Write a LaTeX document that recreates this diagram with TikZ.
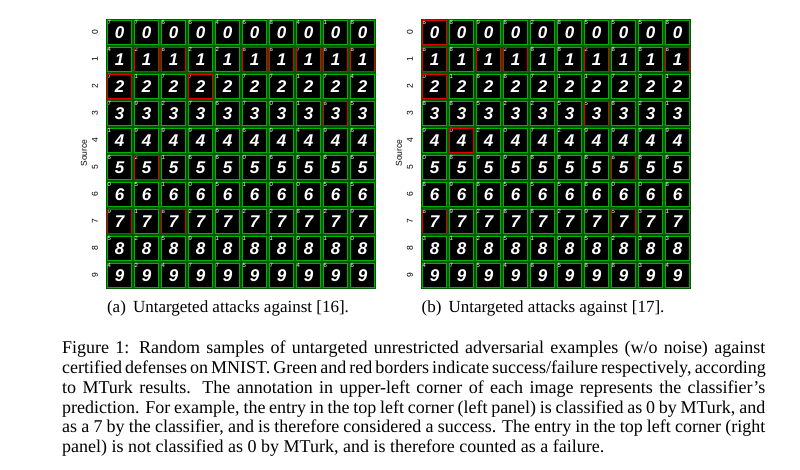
\documentclass[tikz,border=0pt]{standalone}
\usepackage{fontspec}
\setmainfont{Liberation Serif}
\setsansfont{Liberation Sans}
\begin{document}
\begin{tikzpicture}[x=1pt,y=-1pt,
  cellbox/.style={draw=green!70!black,line width=1.3pt,fill=black,minimum size=24pt,inner sep=0pt},
  failline/.style={draw=red!90!black,line width=1.8pt},
  digit/.style={text=white,font=\sffamily\bfseries\itshape\fontsize{17}{17}\selectfont,inner sep=0pt},
  pred/.style={text=white,font=\sffamily\fontsize{6}{6}\selectfont,inner sep=0.5pt,anchor=north west},
  rowlab/.style={font=\sffamily\fontsize{8.5}{9}\selectfont,rotate=90},
  caplab/.style={font=\fontsize{17}{18}\selectfont},
  capline/.style={font=\fontsize{18}{20}\selectfont,anchor=west,inner sep=0pt}]
\useasboundingbox (0,0) rectangle (800,470);
\fill[white] (0,0) rectangle (800,470);
\foreach \G/\ox/\sx/\labs in {L/106/84/{{7,7,6,6,4,6,8,4,1,8},{4,2,8,2,2,8,8,7,8,8},{7,1,7,7,1,7,7,1,7,4},{7,9,2,7,6,7,0,1,8,5},{1,9,9,9,6,6,9,4,9,6},{6,2,1,6,6,0,6,6,8,6},{0,5,1,0,5,1,0,0,5,5},{9,1,8,2,9,2,2,8,2,9},{5,2,5,9,1,1,1,0,1,0},{4,2,4,7,7,5,7,4,6,6}},
                              R/421/399/{{6,8,9,8,2,8,5,5,5,8},{8,8,8,2,8,8,2,8,8,8},{0,1,8,8,7,1,1,7,3,1},{8,8,5,2,2,5,5,8,2,1},{9,0,2,0,7,2,9,9,9,9},{0,8,9,9,8,8,8,8,8,6},{8,9,8,5,5,5,8,0,0,8},{8,9,2,8,8,2,9,5,3,1},{3,1,2,5,1,0,5,2,3,3},{4,7,5,4,8,5,8,8,3,4}}}{
  \fill[green!35!black] (\ox,19) rectangle (\ox+270,289);
  \node[rowlab] (\G-src) at (\sx,153) {Source};
  \foreach \rowl [count=\r from 0] in \labs {
    \node[rowlab] (\G-row\r) at (\ox-11,32.5+27*\r) {\r};
    \foreach \l [count=\c from 0] in \rowl {
      \node[cellbox] (\G-\r-\c) at (\ox+13.5+27*\c,32.5+27*\r) {};
      \node[digit] (\G-d\r-\c) at (\G-\r-\c) {\r};
      \node[pred] (\G-p\r-\c) at (\G-\r-\c.north west) {\l};
    }
  }
}
\foreach \ox/\rr/\cc in {106/1/1,106/1/2,106/1/5,106/1/6,106/1/7,106/1/8,106/1/9,106/2/0,106/2/3,106/3/8,106/5/1,106/7/0,106/7/2,421/0/0,421/1/0,421/1/2,421/1/3,421/1/6,421/1/9,421/2/0,421/3/6,421/4/1,421/5/7,421/7/0,421/7/7}
  \draw[failline] (\ox+1.5+27*\cc,20.5+27*\rr) rectangle (\ox+25.5+27*\cc,44.5+27*\rr);
\node[caplab] (capa) at (228,308) {(a)\, Untargeted attacks against [16].};
\node[caplab] (capb) at (543,308) {(b)\, Untargeted attacks against [17].};
\node[capline] (l1) at (62,349) {\makebox[703pt][s]{Figure 1: Random samples of untargeted unrestricted adversarial examples (w/o noise) against}};
\node[capline] (l2) at (62,369) {\makebox[703pt][s]{certified defenses on MNIST. Green and red borders indicate success/failure respectively, according}};
\node[capline] (l3) at (62,389) {\makebox[703pt][s]{to MTurk results. The annotation in upper-left corner of each image represents the classifier’s}};
\node[capline] (l4) at (62,409) {\makebox[703pt][s]{prediction. For example, the entry in the top left corner (left panel) is classified as 0 by MTurk, and}};
\node[capline] (l5) at (62,428) {\makebox[703pt][s]{as a 7 by the classifier, and is therefore considered a success. The entry in the top left corner (right}};
\node[capline] (l6) at (62,448) {panel) is not classified as 0 by MTurk, and is therefore counted as a failure.};
\end{tikzpicture}
\end{document}
